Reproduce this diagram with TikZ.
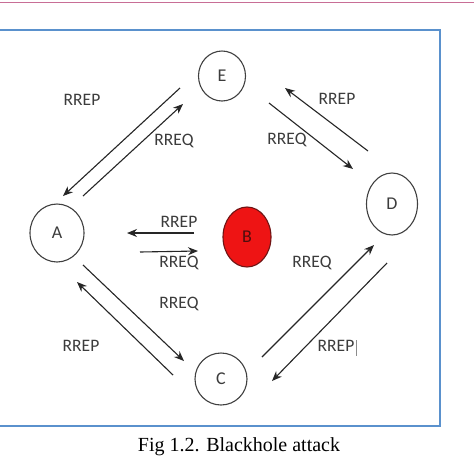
\documentclass[tikz,border=0pt]{standalone}
\usepackage{fontspec}
\setmainfont{Liberation Serif}
\newfontfamily\lblfont{Carlito}
\usetikzlibrary{arrows.meta,shapes.geometric}
\definecolor{boxblue}{RGB}{90,145,205}
\definecolor{toppink}{RGB}{200,110,150}
\definecolor{txtgray}{RGB}{60,60,60}
\definecolor{bred}{RGB}{238,20,20}
\definecolor{bredline}{RGB}{110,20,20}
\begin{document}
\begin{tikzpicture}[x=1pt,y=-1pt,
  nodecirc/.style={draw=black!75,line width=1.1pt,ellipse,inner sep=0pt,
     font=\lblfont\fontsize{18}{18}\selectfont,text=txtgray},
  msg/.style={font=\lblfont\fontsize{17.5}{17.5}\selectfont,text=txtgray,inner sep=0pt},
  link/.style={draw=black!85,line width=1.1pt,-{Stealth[length=10pt,width=8pt]}}]
\useasboundingbox (0,0) rectangle (474,459);
\fill[white] (0,0) rectangle (474,459);
% frame lines
\draw[toppink,line width=1.3pt] (0,2.5) -- (474,2.5);
\draw[boxblue,line width=1.8pt] (-5,30) rectangle (440,426);
% nodes
\node[nodecirc,minimum width=47pt,minimum height=50pt] (E) at (222,76) {E};
\node[nodecirc,minimum width=54pt,minimum height=58pt] (A) at (57,233) {A};
\node[nodecirc,minimum width=51pt,minimum height=62pt] (D) at (392,204) {D};
\node[nodecirc,minimum width=52pt,minimum height=52pt] (C) at (221,379) {C};
\node[ellipse,draw=bredline,fill=bred,line width=1.1pt,minimum width=48pt,minimum height=60pt,
      inner sep=0pt,font=\lblfont\fontsize{18}{18}\selectfont,text=bredline!70!black] (B) at (247,237) {B};
% arrow end points
\coordinate (ea1) at (180,88);  \coordinate (ea2) at (63,196);
\coordinate (ae1) at (83,196);  \coordinate (ae2) at (183,104);
\coordinate (de1) at (368,151); \coordinate (de2) at (285,88);
\coordinate (ed1) at (269,103); \coordinate (ed2) at (353,169);
\coordinate (ba1) at (194,233); \coordinate (ba2) at (127,233);
\coordinate (ab1) at (140,252); \coordinate (ab2) at (198,251);
\coordinate (ac1) at (83,265);  \coordinate (ac2) at (184,361);
\coordinate (ca1) at (173,375); \coordinate (ca2) at (77,282);
\coordinate (cd1) at (262,357); \coordinate (cd2) at (374,245);
\coordinate (dc1) at (387,263); \coordinate (dc2) at (272,381);
% arrows
\draw[link] (ea1) -- (ea2);
\draw[link] (ae1) -- (ae2);
\draw[link] (de1) -- (de2);
\draw[link] (ed1) -- (ed2);
\draw[link] (ba1) -- (ba2);
\draw[link] (ab1) -- (ab2);
\draw[link] (ac1) -- (ac2);
\draw[link] (ca1) -- (ca2);
\draw[link] (cd1) -- (cd2);
\draw[link] (dc1) -- (dc2);
% labels
\node[msg] (l1) at (82,100) {RREP};
\node[msg] (l2) at (174,141) {RREQ};
\node[msg] (l3) at (337,99) {RREP};
\node[msg] (l4) at (287,140) {RREQ};
\node[msg] (l5) at (179,222) {RREP};
\node[msg] (l6) at (179,263) {RREQ};
\node[msg] (l7) at (179,304) {RREQ};
\node[msg] (l8) at (81,346) {RREP};
\node[msg] (l9) at (312,263) {RREQ};
\node[msg] (l10) at (336,346) {RREP};
\draw[black!45,line width=0.6pt] ([xshift=2pt]l10.north east) -- ([xshift=2pt,yshift=-4pt]l10.south east);
% caption
\node[inner sep=0pt,font=\fontsize{20}{20}\selectfont] (cap) at (239,447) {Fig 1.2. Blackhole attack};
\end{tikzpicture}
\end{document}
